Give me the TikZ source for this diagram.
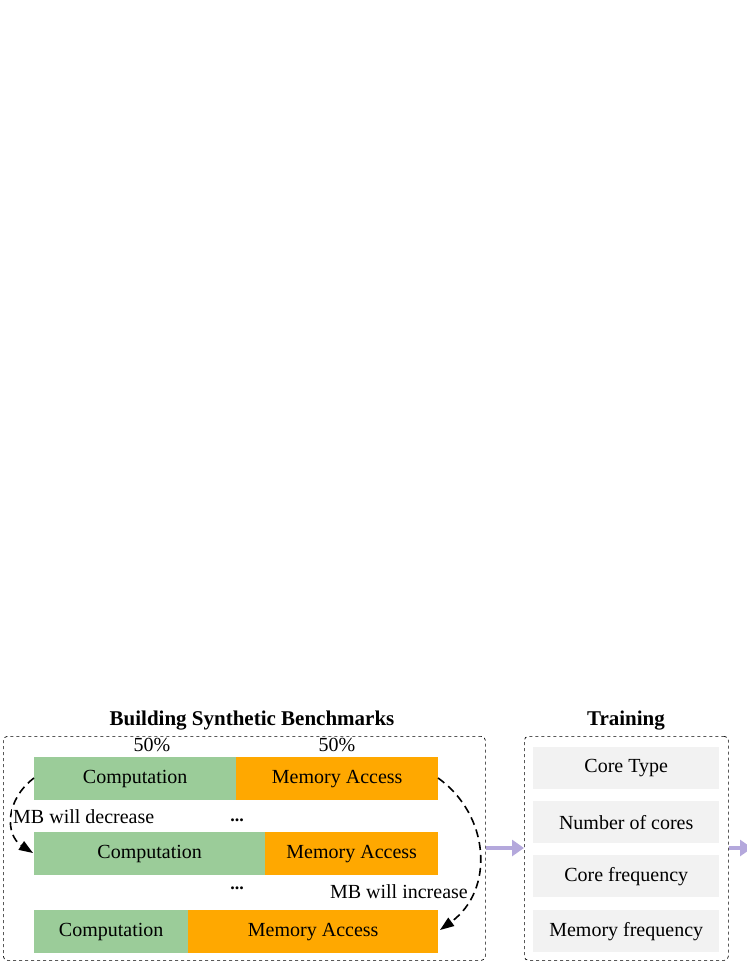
\documentclass[tikz,border=0pt]{standalone}
\usepackage{fontspec}
\setmainfont{Liberation Serif}
\usetikzlibrary{arrows.meta}
\definecolor{cgreen}{HTML}{9BCC99}
\definecolor{corange}{HTML}{FFA800}
\definecolor{cgray}{HTML}{F2F2F2}
\definecolor{cpurple}{HTML}{B4A8DC}
\begin{document}
\begin{tikzpicture}[x=1pt,y=-1pt,
  grp/.style={draw,dashed,rounded corners=4pt,line width=0.7pt},
  bar/.style={inner sep=0,minimum height=43pt,font=\fontsize{20}{22}\selectfont,anchor=north west},
  feat/.style={fill=cgray,inner sep=0,minimum width=186pt,minimum height=42pt,font=\fontsize{20}{22}\selectfont,anchor=north west},
  lbl/.style={font=\fontsize{20}{22}\selectfont,inner sep=1pt},
  ttl/.style={font=\bfseries\fontsize{21}{23}\selectfont},
  flow/.style={cpurple,line width=4.5pt,-{Triangle[length=12pt,width=16pt]}},
  loop/.style={dashed,dash pattern=on 8pt off 5pt,line width=1.6pt,-{Triangle[length=14pt,width=10pt]}}]
\useasboundingbox (0,0) rectangle (747,967);
\node[grp,minimum width=482pt,minimum height=224pt,anchor=north west,inner sep=0] (g1) at (3,736) {};
\node[grp,minimum width=204pt,minimum height=224pt,anchor=north west,inner sep=0] (g2) at (524,736) {};
\node[ttl] (t1) at (252,721) {Building Synthetic Benchmarks};
\node[ttl] (t2) at (626,721) {Training};
\node[lbl] (p1) at (152,745) {50\%};
\node[lbl] (p2) at (337,745) {50\%};
\node[bar,fill=cgreen,minimum width=202pt] (c1) at (34,757) {Computation};
\node[bar,fill=corange,minimum width=202pt] (m1) at (236,757) {Memory Access};
\node[bar,fill=cgreen,minimum width=231pt] (c2) at (34,832) {Computation};
\node[bar,fill=corange,minimum width=173pt] (m2) at (265,832) {Memory Access};
\node[bar,fill=cgreen,minimum width=154pt] (c3) at (34,910) {Computation};
\node[bar,fill=corange,minimum width=250pt] (m3) at (188,910) {Memory Access};
\node[font=\bfseries\fontsize{18}{20}\selectfont] (d1) at (237,820) {...};
\node[font=\bfseries\fontsize{18}{20}\selectfont] (d2) at (237,888) {...};
\coordinate (a1) at (34,778);
\coordinate (a2) at (33,853);
\draw[loop] (a1) .. controls (5,800) and (5,835) .. (a2);
\node[lbl,fill=white,anchor=west] (dec) at (12,817) {MB will decrease};
\coordinate (b1) at (438,778);
\coordinate (b2) at (440,930);
\draw[loop] (b1) .. controls (490,815) and (495,890) .. (b2);
\node[lbl,anchor=east] (inc) at (469,892) {MB will increase};
\node[feat] (f1) at (533,747) {Core Type};
\node[feat] (f2) at (533,801) {Number of cores};
\node[feat] (f3) at (533,855) {Core frequency};
\node[feat] (f4) at (533,910) {Memory frequency};
\draw[flow] (g1.east|-0,848) -- (g2.west|-0,848);
\coordinate (edge) at (752,848);
\draw[flow] (g2.east|-0,848) -- (edge);
\end{tikzpicture}
\end{document}
